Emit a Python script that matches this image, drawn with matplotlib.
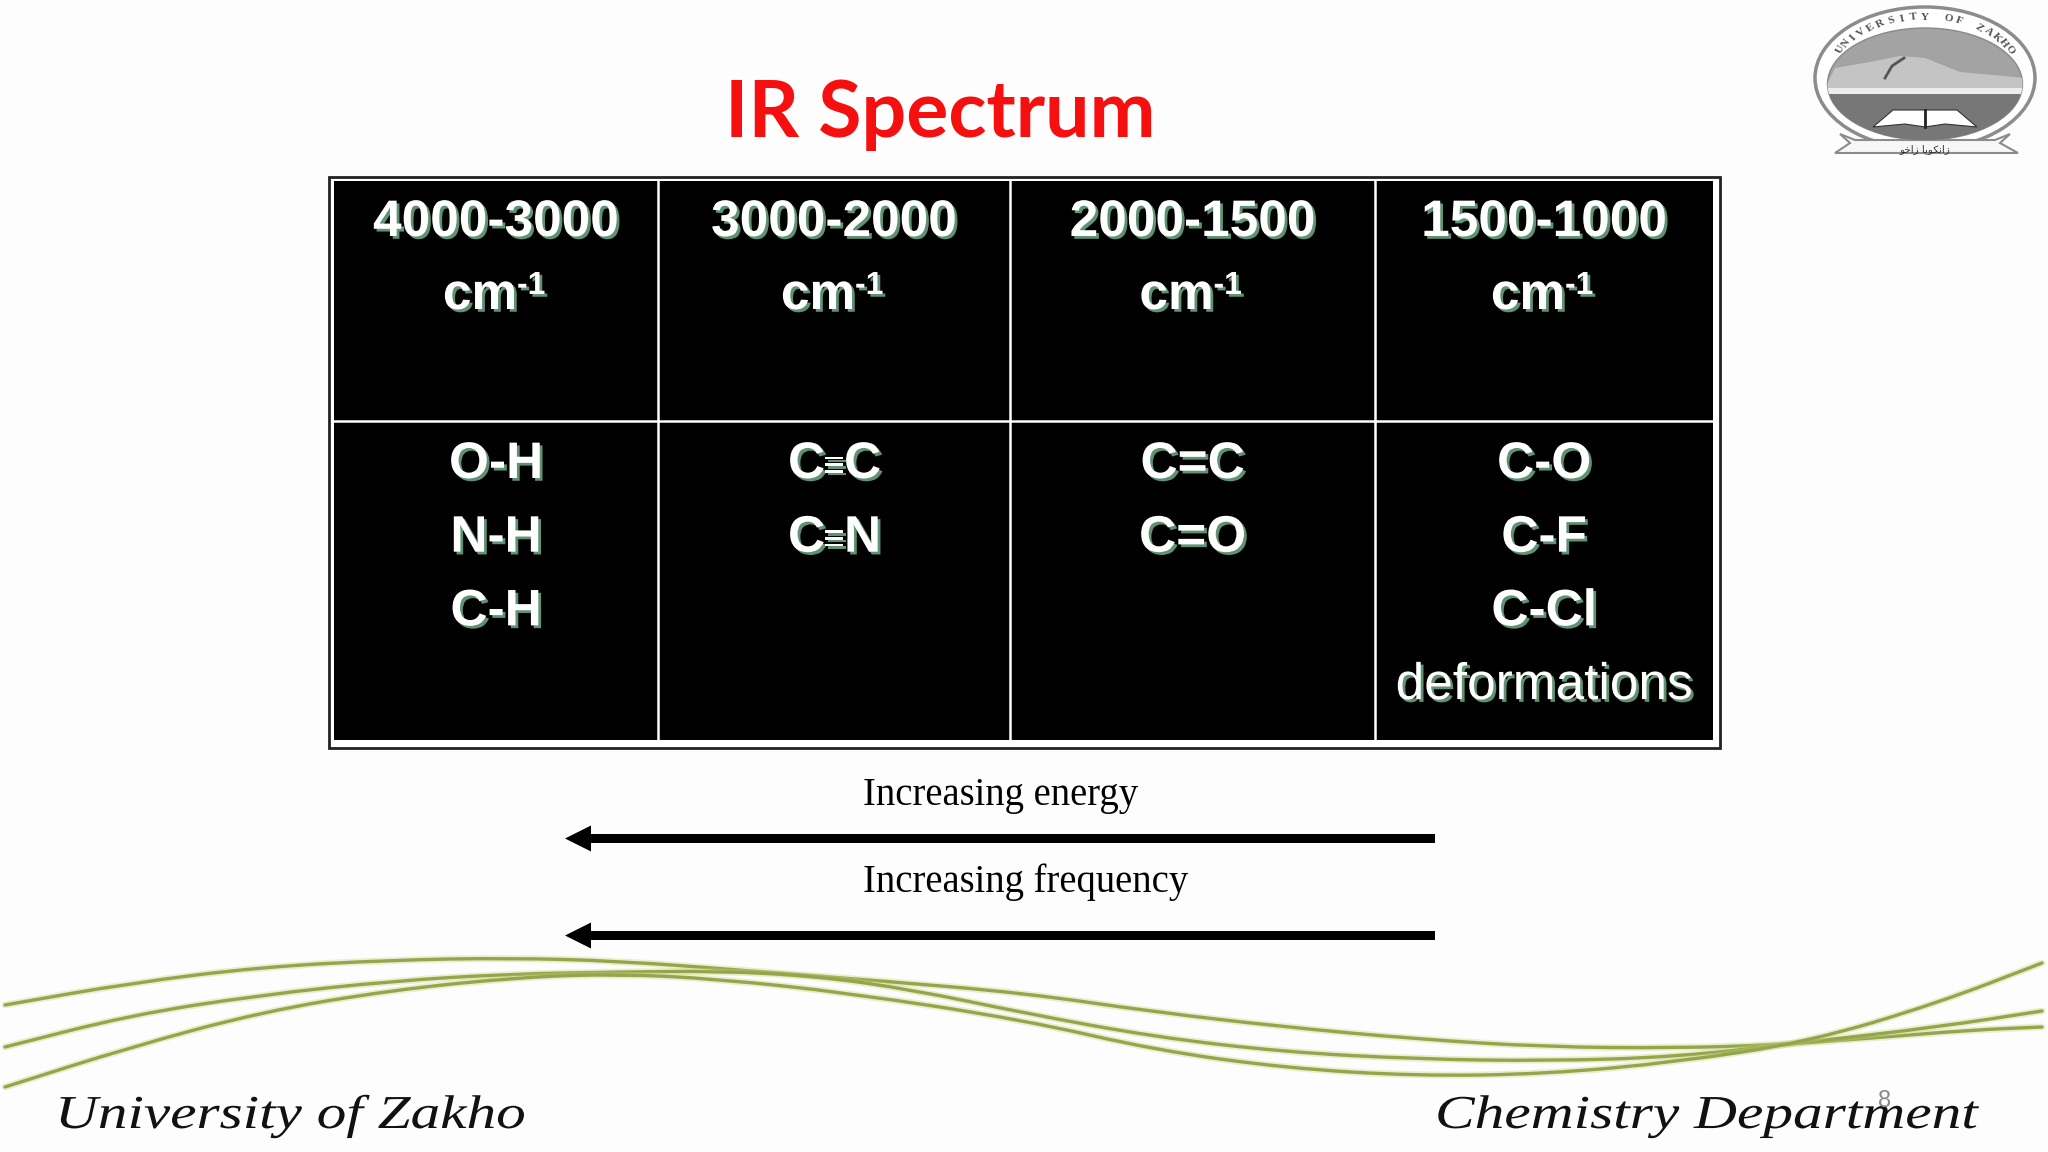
import matplotlib
matplotlib.use('Agg')
import matplotlib.pyplot as plt
import matplotlib.patheffects as pe
from matplotlib.patches import Rectangle, Ellipse, FancyArrow, PathPatch, Polygon
from matplotlib.path import Path
from matplotlib.transforms import Affine2D
import numpy as np

TITLE = 'IR Spectrum'
RANGES = ['4000-3000', '3000-2000', '2000-1500', '1500-1000']
BONDS = [
    ['O-H', 'N-H', 'C-H'],
    ['C≡C', 'C≡N'],
    ['C=C', 'C=O'],
    ['C-O', 'C-F', 'C-Cl', 'deformations'],
]
ARROW_LABELS = ['Increasing energy', 'Increasing frequency']
FOOTER_LEFT = 'University of Zakho'
FOOTER_RIGHT = 'Chemistry Department'
PAGE = '8'
LOGO_TOP = 'UNIVERSITY OF ZAKHO'
# kurdish line of the logo, already in visual order since matplotlib does no shaping
LOGO_BOTTOM = '\ufeee\ufea7\ufe8d\ufeaf \ufe8e\ufef3\ufeee\ufedc\ufee7\ufe8d\ufeaf'

# table grid, in pixels
COL_EDGES = [334, 658, 1010, 1375, 1713]
ROW_EDGES = [181, 421, 740]

# swoosh lines in pixels
CURVE_A_X = [5, 131, 261, 392, 509, 620, 751, 882, 1024, 1155, 1285, 1416, 1546, 1677, 1775, 1873, 1971, 2042]
CURVE_A_Y = [1005, 983, 967, 960, 958, 961, 971, 981, 993, 1012, 1027, 1039, 1047, 1048, 1045, 1038, 1030, 1027]
CURVE_B_X = [5, 131, 261, 392, 509, 620, 718, 816, 914, 1024, 1155, 1285, 1416, 1546, 1677, 1808, 1938, 2042]
CURVE_B_Y = [1047, 1015, 995, 981, 974, 972, 971, 976, 990, 1013, 1037, 1052, 1059, 1061, 1057, 1042, 1027, 1011]
CURVE_C_X = [5, 131, 261, 392, 522, 620, 718, 849, 1024, 1155, 1285, 1416, 1546, 1677, 1808, 1938, 2042]
CURVE_C_Y = [1087, 1047, 1012, 990, 977, 974, 979, 993, 1020, 1050, 1068, 1076, 1074, 1062, 1042, 1003, 963]

SHADOW = '#5f9273'
GREEN = '#93a64c'


class Stretch(pe.AbstractPathEffect):
    # footer lettering is wider than any installed face, so widen it around x0
    def __init__(self, x0, sx):
        super().__init__()
        self.x0 = x0
        self.sx = sx

    def draw_path(self, renderer, gc, tpath, affine, rgbFace=None):
        wide = affine + Affine2D().translate(-self.x0, 0).scale(self.sx, 1).translate(self.x0, 0)
        renderer.draw_path(gc, tpath, wide, rgbFace)


def smooth_path(xs, ys):
    pts = np.column_stack([xs, ys])
    mids = (pts[:-1] + pts[1:]) / 2
    verts = [pts[0], mids[0]]
    codes = [Path.MOVETO, Path.LINETO]
    for i in range(1, len(pts) - 1):
        verts += [pts[i], mids[i]]
        codes += [Path.CURVE3, Path.CURVE3]
    verts.append(pts[-1])
    codes.append(Path.LINETO)
    return Path(verts, codes)


def cell_text(ax, x, y, s, size=37, ha='center', weight='bold'):
    ax.text(x, y, s, family='Liberation Sans', weight=weight, fontsize=size, color='white',
            ha=ha, va='baseline', zorder=5,
            path_effects=[pe.withSimplePatchShadow(offset=(2, -2), shadow_rgbFace=SHADOW, alpha=1)])


def draw_logo(ax):
    cx, cy = 1925, 78
    ax.add_patch(Ellipse((cx, cy), 220, 142, fc='white', ec='#8c8c8c', lw=2.5, zorder=2))
    inner = Ellipse((cx, cy + 6), 195, 112, fc='#a3a3a3', ec='#8a8a8a', lw=1, zorder=3)
    ax.add_patch(inner)
    for patch in [
        Polygon([[1825, 88], [1835, 68], [1870, 62], [1900, 56], [1925, 58], [1960, 72], [2025, 78], [2025, 88]],
                fc='#c4c4c4', ec='none', zorder=3),
        Rectangle((1825, 88), 205, 6, fc='#ececec', ec='none', zorder=3),
        Rectangle((1825, 94), 205, 50, fc='#777777', ec='none', zorder=3),
    ]:
        ax.add_patch(patch)
        patch.set_clip_path(inner)
    ax.plot([1885, 1892, 1904], [78, 66, 58], color='#555555', lw=2, zorder=4)
    ax.add_patch(Polygon([[1873, 127], [1893, 110], [1925, 110], [1957, 110], [1977, 127], [1945, 124],
                          [1925, 127], [1905, 124]], fc='white', ec='#333333', lw=0.8, zorder=4))
    ax.plot([1925, 1925], [110, 127], color='#222222', lw=2, zorder=5)
    ax.add_patch(Polygon([[1835, 153], [1850, 143], [1840, 134], [1855, 140], [1995, 140], [2010, 134],
                          [2000, 143], [2018, 153]], fc='#f7f7f7', ec='#8c8c8c', lw=1.5, zorder=2))
    ax.text(cx, 149, LOGO_BOTTOM, family='DejaVu Sans', fontsize=7.5, color='#333333',
            ha='center', va='center', zorder=5)
    angles = np.linspace(152, 28, len(LOGO_TOP))
    for ch, t in zip(LOGO_TOP, angles):
        r = np.radians(t)
        ax.text(cx + 96 * np.cos(r), cy - 61 * np.sin(r), ch, family='Liberation Serif', weight='bold',
                fontsize=8, color='#555555', ha='center', va='center', rotation=t - 90, zorder=5)


fig = plt.figure(figsize=(20.48, 11.52), dpi=100, facecolor='#fdfdfe')
ax = fig.add_axes([0, 0, 1, 1])
ax.set_xlim(0, 2048)
ax.set_ylim(1152, 0)
ax.axis('off')

ax.text(940, 137, TITLE, family='Lato', weight='bold', fontsize=56.8, color='#f50f0f', ha='center', va='baseline')

# table: dark hairline, white frame, black body
ax.add_patch(Rectangle((329, 176.5), 1391, 571, fc='white', ec='#222222', lw=2, zorder=1))
ax.add_patch(Rectangle((COL_EDGES[0], ROW_EDGES[0]), COL_EDGES[-1] - COL_EDGES[0], ROW_EDGES[-1] - ROW_EDGES[0],
                       fc='black', ec='none', zorder=2))
for x in COL_EDGES[1:-1]:
    ax.plot([x, x], [ROW_EDGES[0], ROW_EDGES[-1]], color='white', lw=1.8, zorder=3)
ax.plot([COL_EDGES[0], COL_EDGES[-1]], [ROW_EDGES[1], ROW_EDGES[1]], color='white', lw=1.8, zorder=3)

for i, (rng, bonds) in enumerate(zip(RANGES, BONDS)):
    cx = (COL_EDGES[i] + COL_EDGES[i + 1]) / 2
    cell_text(ax, cx, 236, rng)
    cell_text(ax, cx + 21, 309, 'cm', ha='right')
    cell_text(ax, cx + 21, 294, '-1', size=23, ha='left')
    for j, bond in enumerate(bonds):
        y = 478 + 73.7 * j
        if '≡' in bond:
            left, right = bond.split('≡')
            cell_text(ax, cx - 9, y, left, ha='right')
            cell_text(ax, cx, y - 1, '≡', size=27)
            cell_text(ax, cx + 10, y, right, ha='left')
        elif bond == 'deformations':
            cell_text(ax, cx, y, bond, weight='normal')
        else:
            cell_text(ax, cx, y, bond)

for label, y_text, y_arrow in zip(ARROW_LABELS, [805, 892], [838.5, 935.5]):
    ax.text(863, y_text, label, family='Liberation Serif', fontsize=27.8, color='black', ha='left', va='baseline')
    ax.add_patch(FancyArrow(1435, y_arrow, -870, 0, width=9, head_width=26, head_length=26,
                            length_includes_head=True, fc='black', ec='none'))

for xs, ys in [(CURVE_A_X, CURVE_A_Y), (CURVE_B_X, CURVE_B_Y), (CURVE_C_X, CURVE_C_Y)]:
    ax.add_patch(PathPatch(smooth_path(xs, ys), fc='none', ec='#c8d27a', alpha=0.35, lw=5, capstyle='round', zorder=2))
    ax.add_patch(PathPatch(smooth_path(xs, ys), fc='none', ec=GREEN, lw=2.4, capstyle='round', zorder=2))

ax.text(55, 1128, FOOTER_LEFT, family='Liberation Serif', style='italic', fontsize=34, color='#111111',
        ha='left', va='baseline', path_effects=[Stretch(55, 1.255)])
ax.text(1435, 1128, FOOTER_RIGHT, family='Liberation Serif', style='italic', fontsize=34, color='#111111',
        ha='left', va='baseline', path_effects=[Stretch(1435, 1.258)])
ax.text(1885, 1107, PAGE, family='Liberation Sans', fontsize=17, color='#8a8a8a', ha='center', va='baseline', zorder=6)

draw_logo(ax)

fig.savefig('out.png', dpi=100)
